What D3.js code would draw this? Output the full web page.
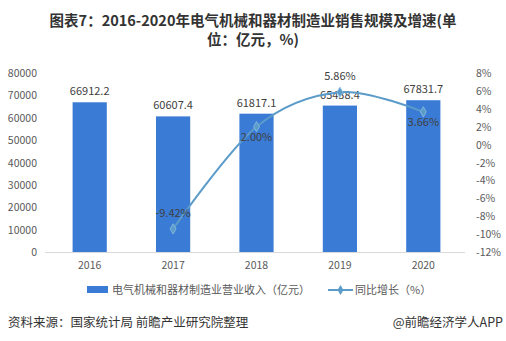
<!DOCTYPE html>
<html><head><meta charset="utf-8">
<script src="https://cdn.jsdelivr.net/npm/d3@7/dist/d3.min.js"></script>
<style>body{margin:0;background:#fff;}svg{display:block;font-family:"Microsoft YaHei","Noto Sans CJK SC",sans-serif;}</style>
</head><body><svg id="c" width="506" height="341"></svg>
<script>
const years = ["2016","2017","2018","2019","2020"];
const revenue = [66912.2, 60607.4, 61817.1, 65438.4, 67831.7];
const growthYears = ["2017","2018","2019","2020"];
const growth = [-9.42, 2.00, 5.86, 3.66];
const leftTicks = [0,10000,20000,30000,40000,50000,60000,70000,80000];
const rightTicks = [-12,-10,-8,-6,-4,-2,0,2,4,6,8];
const growthLabelPos = ["above","below","above","below"];

const svg = d3.select("#c");
const barColor = "#3a7bd5", lineColor = "#5b9bc9", txt = "#595959";

const x = d3.scaleBand().domain(years).range([48,465]).paddingInner(0.59).paddingOuter(0.295);
const yL = d3.scaleLinear().domain([0,80000]).range([252,73]);
const yR = d3.scaleLinear().domain([-12,8]).range([252,73]);

// title
svg.append("text").attr("x",253).attr("y",26).attr("text-anchor","middle")
  .attr("font-size",14.5).attr("font-weight","bold").attr("fill","#333")
  .text("图表7：2016-2020年电气机械和器材制造业销售规模及增速(单");
svg.append("text").attr("x",253).attr("y",45).attr("text-anchor","middle")
  .attr("font-size",14.5).attr("font-weight","bold").attr("fill","#333")
  .text("位：亿元，%)");

// left axis labels
svg.append("g").selectAll("text").data(leftTicks).join("text")
  .attr("x",37).attr("y",d=>yL(d)+4).attr("text-anchor","end")
  .attr("font-size",10.5).attr("fill",txt).text(d=>d);
// right axis labels
svg.append("g").selectAll("text").data(rightTicks).join("text")
  .attr("x",476).attr("y",d=>yR(d)+4).attr("text-anchor","start")
  .attr("font-size",10.5).attr("fill",txt).text(d=>d+"%");

// baseline
svg.append("line").attr("x1",45).attr("x2",465).attr("y1",252.5).attr("y2",252.5)
  .attr("stroke","#d9d9d9").attr("stroke-width",1);

// bars
svg.append("g").selectAll("rect").data(years).join("rect")
  .attr("x",d=>x(d)).attr("width",x.bandwidth())
  .attr("y",(d,i)=>yL(revenue[i])).attr("height",(d,i)=>yL(0)-yL(revenue[i]))
  .attr("fill",barColor);
svg.append("g").selectAll("text").data(years).join("text")
  .attr("x",d=>x(d)+x.bandwidth()/2).attr("y",(d,i)=>yL(revenue[i])-7)
  .attr("text-anchor","middle").attr("font-size",11).attr("fill","#404040")
  .text((d,i)=>revenue[i].toFixed(1));

// x labels
svg.append("g").selectAll("text").data(years).join("text")
  .attr("x",d=>x(d)+x.bandwidth()/2).attr("y",269)
  .attr("text-anchor","middle").attr("font-size",10.5).attr("fill",txt).text(d=>d);

// line
const pts = growthYears.map((d,i)=>[x(d)+x.bandwidth()/2, yR(growth[i])]);
svg.append("path").attr("d",d3.line().curve(d3.curveCatmullRom.alpha(0))(pts))
  .attr("fill","none").attr("stroke",lineColor).attr("stroke-width",2);
svg.append("g").selectAll("path").data(pts).join("path")
  .attr("transform",d=>`translate(${d[0]},${d[1]})`)
  .attr("d",d3.symbol().type(d3.symbolDiamond).size(30))
  .attr("fill",lineColor).attr("stroke","#8fc0e0").attr("stroke-width",0.8);
svg.append("g").selectAll("text").data(pts).join("text")
  .attr("x",d=>d[0]).attr("y",(d,i)=>growthLabelPos[i]==="above"? d[1]-12 : d[1]+14)
  .attr("text-anchor","middle").attr("font-size",11).attr("fill","#404040")
  .text((d,i)=>growth[i].toFixed(2)+"%");

// legend
svg.append("rect").attr("x",87).attr("y",286).attr("width",21).attr("height",7).attr("fill",barColor);
svg.append("text").attr("x",112).attr("y",294).attr("font-size",11).attr("fill",txt)
  .text("电气机械和器材制造业营业收入（亿元）");
svg.append("line").attr("x1",328).attr("x2",353).attr("y1",290).attr("y2",290)
  .attr("stroke",lineColor).attr("stroke-width",2);
svg.append("path").attr("transform","translate(340.5,290)")
  .attr("d",d3.symbol().type(d3.symbolDiamond).size(30)).attr("fill",lineColor);
svg.append("text").attr("x",355).attr("y",294).attr("font-size",11).attr("fill",txt)
  .text("同比增长（%）");

// footer
svg.append("text").attr("x",8).attr("y",327).attr("font-size",12.5).attr("fill","#333")
  .text("资料来源：国家统计局 前瞻产业研究院整理");
svg.append("text").attr("x",503).attr("y",327).attr("text-anchor","end").attr("font-size",12.5).attr("fill","#333")
  .text("@前瞻经济学人APP");
</script></body></html>
